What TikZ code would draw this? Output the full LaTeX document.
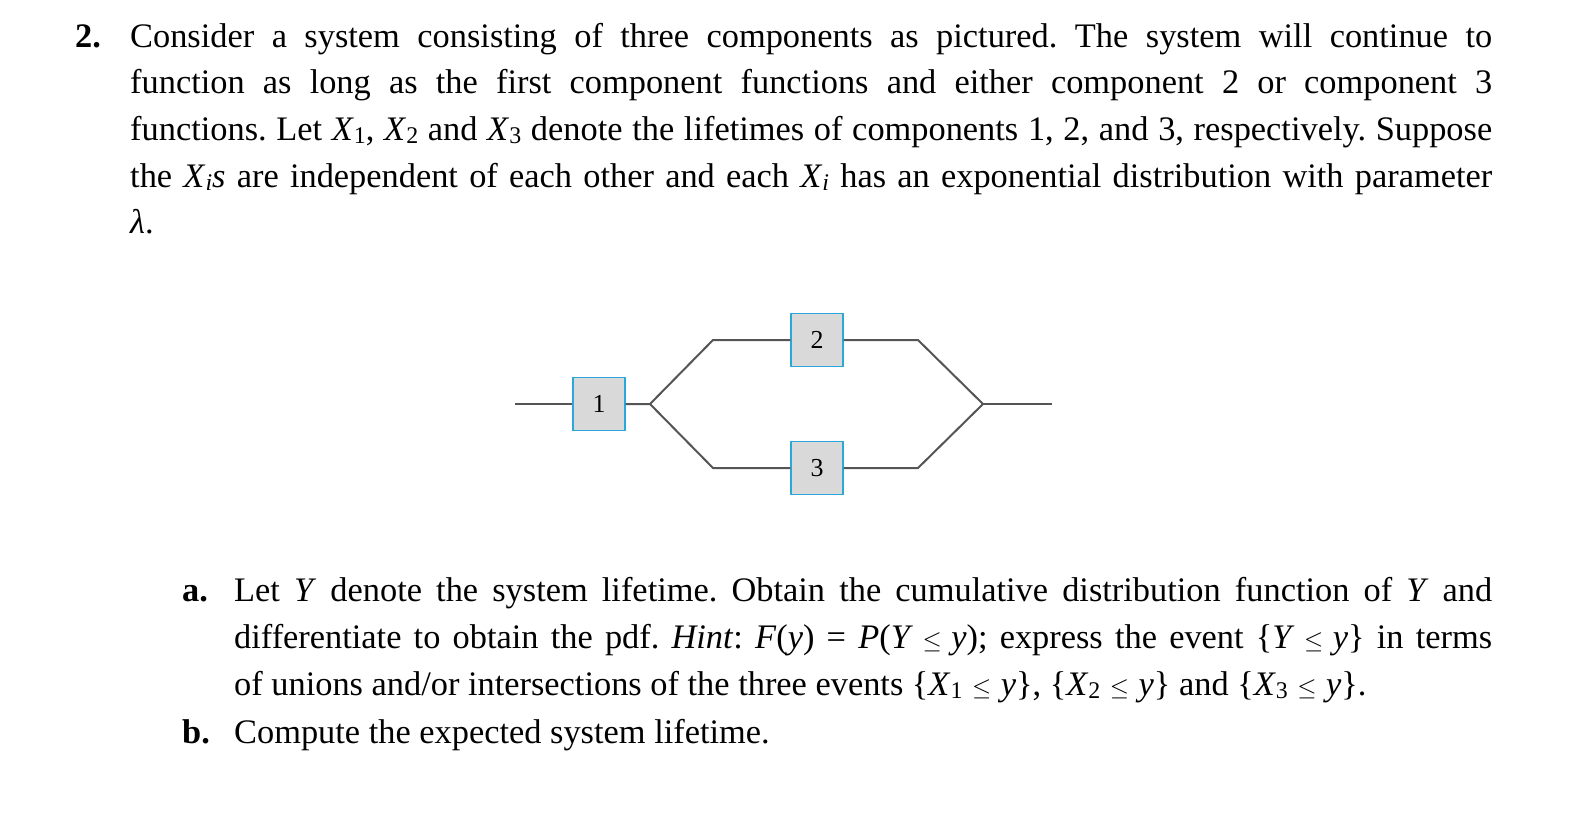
\documentclass[tikz,border=0pt]{standalone}
\usepackage{fontspec}
\setmainfont{Liberation Serif}
\usetikzlibrary{positioning}
\definecolor{boxblue}{HTML}{2AA8D8}
\definecolor{boxgray}{HTML}{D9D9D9}
\definecolor{wire}{HTML}{555555}
\frenchspacing
\newcommand{\jline}[1]{\makebox[1362bp][s]{#1}}
\newcommand{\kline}[1]{\makebox[1258bp][s]{#1}}
\newcommand{\mv}[1]{\textit{#1}}
\newcommand{\lsub}[1]{\raisebox{-0.25ex}{\fontsize{24}{28}\selectfont #1}}
\newcommand{\lesym}{\;$\leq$\;}
\begin{document}
\begin{tikzpicture}[x=1bp,y=-1bp,
  txt/.style={anchor=base west,inner sep=0pt,font=\fontsize{34.5}{40}\selectfont},
  comp/.style={draw=boxblue,fill=boxgray,line width=1.4bp,minimum width=52bp,minimum height=53bp,inner sep=0pt,font=\fontsize{26}{30}\selectfont},
  wireline/.style={draw=wire,line width=2bp}]
  \useasboundingbox (0,0) rectangle (1582,834);
  % question text
  \node[txt] (num) at (75,47) {\textbf{2.}};
  \node[txt] (l1) at (130,47) {\jline{Consider a system consisting of three components as pictured. The system will continue to}};
  \node[txt] (l2) at (130,93) {\jline{function as long as the first component functions and either component 2 or component 3}};
  \node[txt] (l3) at (130,140) {\jline{functions. Let \mv{X}\lsub{1}, \mv{X}\lsub{2} and \mv{X}\lsub{3} denote the lifetimes of components 1, 2, and 3, respectively. Suppose}};
  \node[txt] (l4) at (130,187) {\jline{the \mv{X}\lsub{\mv{i}}\mv{s} are independent of each other and each \mv{X}\lsub{\mv{i}} has an exponential distribution with parameter}};
  \node[txt] (l5) at (130,233) {\mv{λ}.};
  % system diagram
  \node[comp] (c1) at (599,404) {1};
  \node[comp] (c2) at (817,340) {2};
  \node[comp] (c3) at (817,468) {3};
  \coordinate (in) at (515,404);
  \coordinate (split) at (650,404);
  \coordinate (join) at (983,404);
  \coordinate (out) at (1052,404);
  \draw[wireline] (in) -- (c1);
  \draw[wireline] (c1) -- (split) -- (713,340) -- (c2);
  \draw[wireline] (split) -- (713,468) -- (c3);
  \draw[wireline] (c2) -- (918,340) -- (join);
  \draw[wireline] (c3) -- (918,468) -- (join);
  \draw[wireline] (join) -- (out);
  % parts
  \node[txt] (pa) at (182,601) {\textbf{a.}};
  \node[txt] (a1) at (234,601) {\kline{Let \mv{Y} denote the system lifetime. Obtain the cumulative distribution function of \mv{Y} and}};
  \node[txt] (a2) at (234,648) {\kline{differentiate to obtain the pdf. \textit{Hint}: \mv{F}(\mv{y}) = \mv{P}(\mv{Y}\lesym\mv{y}); express the event \{\mv{Y}\lesym\mv{y}\} in terms}};
  \node[txt] (a3) at (234,695) {of unions and/or intersections of the three events \{\mv{X}\lsub{1}\lesym\mv{y}\}, \{\mv{X}\lsub{2}\lesym\mv{y}\} and \{\mv{X}\lsub{3}\lesym\mv{y}\}.};
  \node[txt] (pb) at (182,743) {\textbf{b.}};
  \node[txt] (b1) at (234,743) {Compute the expected system lifetime.};
\end{tikzpicture}
\end{document}
